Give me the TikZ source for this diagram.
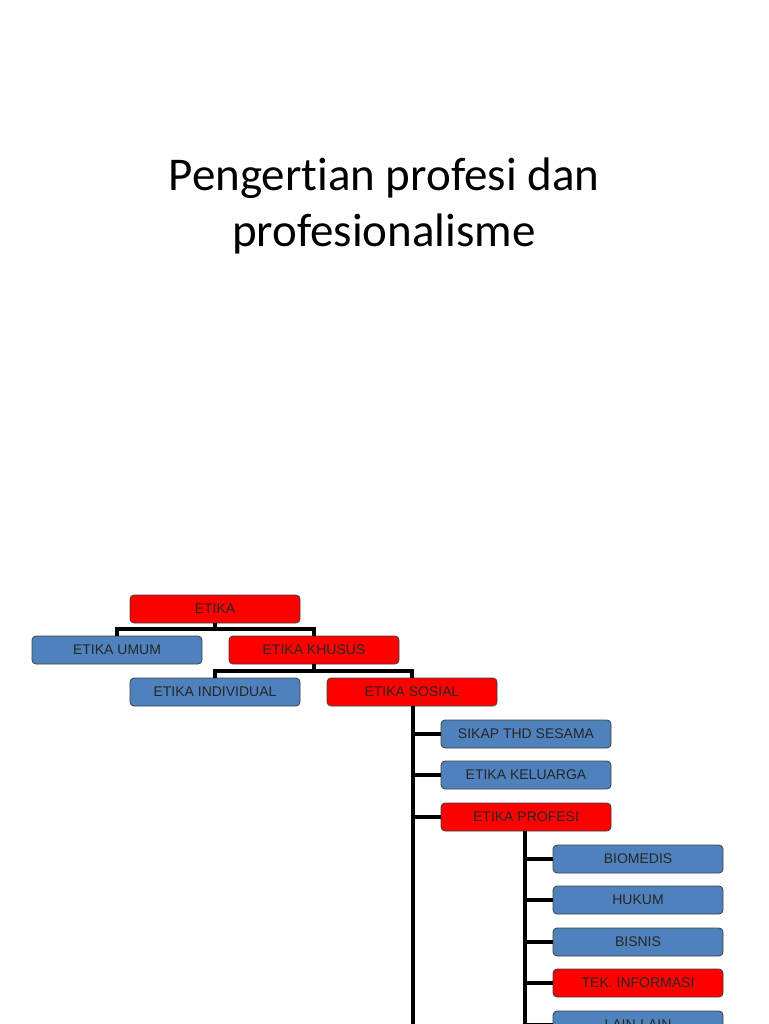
\documentclass[tikz,border=0pt]{standalone}
\usepackage{fontspec}
\setmainfont{Carlito}[Ligatures={NoCommon}]
\newfontfamily\boxfont{Liberation Sans}
\definecolor{bred}{HTML}{FF0000}
\definecolor{bblue}{HTML}{4F81BD}
\definecolor{bline}{HTML}{404040}
\begin{document}
\begin{tikzpicture}[x=1pt,y=-1pt,
  box/.style={draw=bline, line width=0.8pt, rounded corners=4pt, minimum width=170pt, minimum height=28pt, inner sep=0pt, font=\boxfont\fontsize{14}{16}\selectfont, text=black!85},
  redbox/.style={box, fill=bred},
  bluebox/.style={box, fill=bblue},
  conn/.style={line width=4pt, black}]
\useasboundingbox (0,0) rectangle (768,1024);
\clip (0,0) rectangle (768,1024);
\node[font=\fontsize{47}{56}\selectfont, align=center, anchor=base] (title) at (384,247) {Pengertian profesi dan\\profesionalisme};
\coordinate (s1) at (215,629);
\coordinate (s2) at (314,671);
\coordinate (vsos) at (413,1060);
\coordinate (vpro) at (525,1060);
\node[redbox] (etika) at (215,609) {ETIKA};
\node[bluebox] (umum) at (117,650) {ETIKA UMUM};
\node[redbox] (khusus) at (314,650) {ETIKA KHUSUS};
\node[bluebox] (indiv) at (215,692) {ETIKA INDIVIDUAL};
\node[redbox] (sosial) at (412,692) {ETIKA SOSIAL};
\node[bluebox] (sikap) at (526,734) {SIKAP THD SESAMA};
\node[bluebox] (kel) at (526,775) {ETIKA KELUARGA};
\node[redbox] (prof) at (526,817) {ETIKA PROFESI};
\node[bluebox] (bio) at (638,859) {BIOMEDIS};
\node[bluebox] (hukum) at (638,900) {HUKUM};
\node[bluebox] (bisnis) at (638,942) {BISNIS};
\node[redbox] (tek) at (638,983) {TEK. INFORMASI};
\node[bluebox] (lain) at (638,1025) {LAIN-LAIN};
\draw[conn] (etika.south) -- (s1);
\draw[conn] (umum.north) |- (s1) -| (khusus.north);
\draw[conn] (khusus.south) -- (s2);
\draw[conn] (indiv.north) |- (s2) -| (sosial.north);
\draw[conn] (sosial.south -| vsos) -- (vsos);
\foreach \n in {sikap,kel,prof} \draw[conn] (vsos |- \n.west) -- (\n.west);
\draw[conn] (prof.south -| vpro) -- (vpro);
\foreach \n in {bio,hukum,bisnis,tek,lain} \draw[conn] (vpro |- \n.west) -- (\n.west);
\end{tikzpicture}
\end{document}
